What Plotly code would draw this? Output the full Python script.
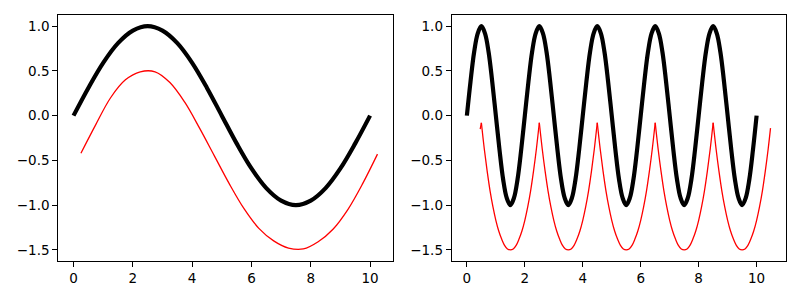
import plotly.graph_objects as go
from plotly.subplots import make_subplots

# ---- Left panel data ----
left_black_x = [0, 0.5, 1, 1.5, 2, 2.5, 3, 3.5, 4, 4.5, 5, 5.5, 6, 6.5, 7, 7.5, 8, 8.5, 9, 9.5, 10]
left_black_y = [0, 0.31, 0.59, 0.81, 0.95, 1.0, 0.95, 0.81, 0.59, 0.31, 0, -0.31, -0.59, -0.81, -0.95,
                -1.0, -0.95, -0.81, -0.59, -0.31, 0]

left_red_x = [0.25, 0.75, 1.25, 1.75, 2.25, 2.75, 3.25, 3.75, 4.25, 4.75, 5.25, 5.75, 6.25, 6.75,
              7.25, 7.75, 8.25, 8.75, 9.25, 9.75, 10.25]
left_red_y = [-0.42, -0.10, 0.20, 0.40, 0.49, 0.49, 0.37, 0.15, -0.14, -0.45, -0.76, -1.04, -1.26, -1.40,
              -1.48, -1.49, -1.41, -1.27, -1.05, -0.76, -0.43]

# ---- Right panel data ----
right_black_x = [round(0.125 * i, 3) for i in range(81)]
right_black_y = [0, 0.38, 0.71, 0.92, 1.0, 0.92, 0.71, 0.38, 0, -0.38, -0.71, -0.92, -1.0, -0.92, -0.71, -0.38,
                 0, 0.38, 0.71, 0.92, 1.0, 0.92, 0.71, 0.38, 0, -0.38, -0.71, -0.92, -1.0, -0.92, -0.71, -0.38,
                 0, 0.38, 0.71, 0.92, 1.0, 0.92, 0.71, 0.38, 0, -0.38, -0.71, -0.92, -1.0, -0.92, -0.71, -0.38,
                 0, 0.38, 0.71, 0.92, 1.0, 0.92, 0.71, 0.38, 0, -0.38, -0.71, -0.92, -1.0, -0.92, -0.71, -0.38,
                 0, 0.38, 0.71, 0.92, 1.0, 0.92, 0.71, 0.38, 0, -0.38, -0.71, -0.92, -1.0, -0.92, -0.71, -0.38,
                 0]

# red curve on the right: a short lead-in, then arches between cusps (each arch read separately)
right_red_lead_x = [0.46, 0.5]
right_red_lead_y = [-0.15, -0.08]
right_red_cusps = [0.5, 2.5, 4.5, 6.5, 8.5]
right_red_arches = [
    [-0.08, -0.37, -0.62, -0.84, -1.02, -1.17, -1.29, -1.38, -1.45, -1.49, -1.50,
     -1.49, -1.45, -1.38, -1.29, -1.17, -1.02, -0.84, -0.62, -0.37, -0.08],
    [-0.08, -0.37, -0.62, -0.84, -1.02, -1.17, -1.29, -1.38, -1.45, -1.49, -1.50,
     -1.49, -1.45, -1.38, -1.29, -1.17, -1.02, -0.84, -0.62, -0.37, -0.08],
    [-0.08, -0.37, -0.62, -0.84, -1.02, -1.17, -1.29, -1.38, -1.45, -1.49, -1.50,
     -1.49, -1.45, -1.38, -1.29, -1.17, -1.02, -0.84, -0.62, -0.37, -0.08],
    [-0.08, -0.37, -0.62, -0.84, -1.02, -1.17, -1.29, -1.38, -1.45, -1.49, -1.50,
     -1.49, -1.45, -1.38, -1.29, -1.17, -1.02, -0.84, -0.62, -0.37, -0.08],
    [-0.08, -0.37, -0.62, -0.84, -1.02, -1.17, -1.29, -1.38, -1.45, -1.49, -1.50,
     -1.49, -1.45, -1.38, -1.29, -1.17, -1.02, -0.84, -0.62, -0.37, -0.14],
]
right_red_arch_offsets = [0, 0.1, 0.2, 0.3, 0.4, 0.5, 0.6, 0.7, 0.8, 0.9, 1.0,
                          1.1, 1.2, 1.3, 1.4, 1.5, 1.6, 1.7, 1.8, 1.9, 2.0]
right_red_last_offsets = [0, 0.1, 0.2, 0.3, 0.4, 0.5, 0.6, 0.7, 0.8, 0.9, 1.0,
                          1.1, 1.2, 1.3, 1.4, 1.5, 1.6, 1.7, 1.8, 1.9, 1.98]

x_ticks = [0, 2, 4, 6, 8, 10]
y_ticks = [-1.5, -1.0, -0.5, 0.0, 0.5, 1.0]

# build the gapped red trace (gaps keep the cusps sharp)
rx, ry = list(right_red_lead_x), list(right_red_lead_y)
for k, (c, arch) in enumerate(zip(right_red_cusps, right_red_arches)):
    offs = right_red_last_offsets if k == len(right_red_cusps) - 1 else right_red_arch_offsets
    rx += [None] + [round(c + o, 3) for o in offs]
    ry += [None] + arch

fig = make_subplots(rows=1, cols=2)

fig.add_trace(go.Scatter(x=left_black_x, y=left_black_y, mode="lines",
                         line=dict(color="black", width=4.2, shape="spline"), showlegend=False), 1, 1)
fig.add_trace(go.Scatter(x=left_red_x, y=left_red_y, mode="lines",
                         line=dict(color="#ff0000", width=1.3, shape="spline"), showlegend=False), 1, 1)
fig.add_trace(go.Scatter(x=right_black_x, y=right_black_y, mode="lines",
                         line=dict(color="black", width=4.2, shape="spline"), showlegend=False), 1, 2)
fig.add_trace(go.Scatter(x=rx, y=ry, mode="lines", connectgaps=False,
                         line=dict(color="#ff0000", width=1.3, shape="spline"), showlegend=False), 1, 2)

axis_common = dict(showline=True, linecolor="black", linewidth=1, mirror=True,
                   ticks="outside", ticklen=5, tickwidth=1, tickcolor="black",
                   showgrid=False, zeroline=False,
                   tickfont=dict(family="DejaVu Sans", size=13.5, color="black"))

fig.update_layout(
    width=800, height=300,
    margin=dict(l=0, r=0, t=0, b=0),
    paper_bgcolor="white", plot_bgcolor="white",
    xaxis=dict(domain=[58.3 / 800, 393.3 / 800], range=[-0.5135, 10.7835],
               tickvals=x_ticks, **axis_common),
    xaxis2=dict(domain=[451.7 / 800, 785.7 / 800], range=[-0.524, 11.004],
                tickvals=x_ticks, **axis_common),
    yaxis=dict(domain=[1 - 261 / 300, 1 - 15 / 300], range=[-1.625, 1.125],
               tickvals=y_ticks, tickformat=".1f", **axis_common),
    yaxis2=dict(domain=[1 - 261 / 300, 1 - 15 / 300], range=[-1.625, 1.125],
                tickvals=y_ticks, tickformat=".1f", **axis_common),
)

fig.write_html("out.html")
